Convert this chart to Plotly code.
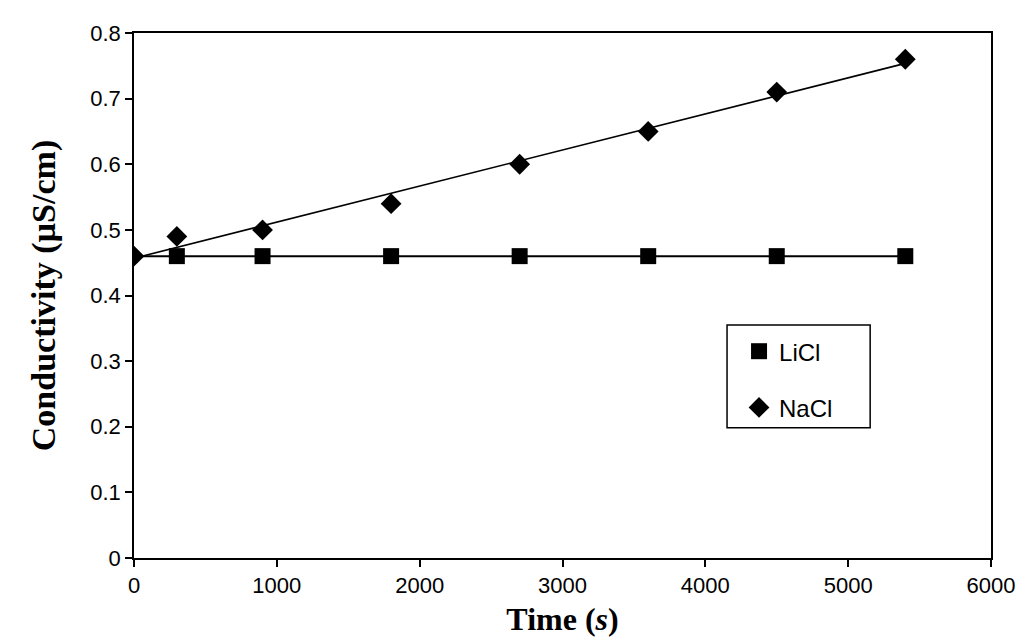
import numpy as np
import plotly.graph_objects as go

time_licl = [300, 900, 1800, 2700, 3600, 4500, 5400]
cond_licl = [0.46, 0.46, 0.46, 0.46, 0.46, 0.46, 0.46]
time_nacl = [0, 300, 900, 1800, 2700, 3600, 4500, 5400]
cond_nacl = [0.46, 0.49, 0.50, 0.54, 0.60, 0.65, 0.71, 0.76]

x_ticks = [0, 1000, 2000, 3000, 4000, 5000, 6000]
y_ticks = [0, 0.1, 0.2, 0.3, 0.4, 0.5, 0.6, 0.7, 0.8]

# linear trendlines drawn from 0 to the last measurement
trend_x = [0, max(time_nacl)]
k_n, b_n = np.polyfit(time_nacl, cond_nacl, 1)
trend_nacl = [b_n + k_n * x for x in trend_x]
trend_licl = [float(np.mean(cond_licl))] * 2

fig = go.Figure()
fig.add_trace(go.Scatter(x=trend_x, y=trend_licl, mode="lines",
                         line=dict(color="black", width=2), showlegend=False, hoverinfo="skip"))
fig.add_trace(go.Scatter(x=trend_x, y=trend_nacl, mode="lines",
                         line=dict(color="black", width=1.6), showlegend=False, hoverinfo="skip"))
fig.add_trace(go.Scatter(x=time_licl, y=cond_licl, mode="markers", name="LiCl",
                         legendgroup="a",
                         marker=dict(symbol="square", size=16, color="black")))
fig.add_trace(go.Scatter(x=time_nacl, y=cond_nacl, mode="markers", name="NaCl",
                         legendgroup="b",
                         marker=dict(symbol="diamond", size=16, color="black")))

axis_common = dict(showline=True, linecolor="black", linewidth=1.5, mirror=True,
                   ticks="outside", ticklen=7, tickwidth=1.5, tickcolor="black",
                   showgrid=False, zeroline=False, automargin=False,
                   tickfont=dict(family="Liberation Sans, Arial", size=22, color="black"))

fig.update_layout(
    width=1019, height=640,
    margin=dict(l=134, r=28, t=33, b=82),
    paper_bgcolor="white", plot_bgcolor="white",
    xaxis=dict(range=[0, 6000], tickvals=x_ticks, ticktext=[str(v) for v in x_ticks],
               title=dict(text="<b>Time (<i>s</i>)</b>", standoff=10,
                          font=dict(family="Liberation Serif, Times New Roman", size=32, color="black")),
               **axis_common),
    yaxis=dict(range=[0, 0.8], tickvals=y_ticks, ticktext=[f"{v:g}" for v in y_ticks],
               title=dict(text="<b>Conductivity (µS/cm)</b>", standoff=24,
                          font=dict(family="Liberation Serif, Times New Roman", size=34, color="black")),
               **axis_common),
    legend=dict(x=0.706, y=0.436, xanchor="left", yanchor="top",
                bgcolor="rgba(0,0,0,0)", borderwidth=0,
                font=dict(family="Liberation Sans, Arial", size=24, color="black"),
                tracegroupgap=22, itemwidth=30),
    showlegend=True,
    shapes=[dict(type="rect", xref="paper", yref="paper",
                 x0=0.692, x1=0.859, y0=0.248, y1=0.444,
                 line=dict(color="black", width=1.5), fillcolor="rgba(0,0,0,0)", layer="below")],
)

fig.write_html("out.html")
